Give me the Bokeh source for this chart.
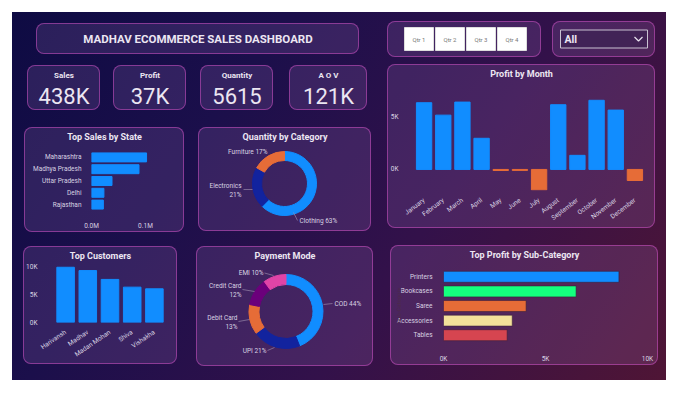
import math
from bokeh.plotting import figure
from bokeh.models import Spacer, Range1d, FactorRange, FixedTicker
from bokeh.core.properties import value
from bokeh.embed import file_html
from bokeh.resources import INLINE

# ---------------- data ----------------
dashboard_title = "MADHAV ECOMMERCE SALES DASHBOARD"
kpi_names = ["Sales", "Profit", "Quantity", "A O V"]
kpi_values = ["438K", "37K", "5615", "121K"]
quarters = ["Qtr 1", "Qtr 2", "Qtr 3", "Qtr 4"]
state_filter = "All"

months = ["January", "February", "March", "April", "May", "June", "July",
          "August", "September", "October", "November", "December"]
month_profit = [6340, 5160, 6400, 2960, -100, -90, -1940, 6150, 1340, 6570, 5640, -1050]
month_ticks = [0, 5000]
month_tick_labels = ["0K", "5K"]

states = ["Maharashtra", "Madhya Pradesh", "Uttar Pradesh", "Delhi", "Rajasthan"]
state_sales = [102000, 88000, 38000, 23000, 22000]
state_ticks = [0, 100000]
state_tick_labels = ["0.0M", "0.1M"]

categories = ["Clothing", "Electronics", "Furniture"]
category_pct = [63, 21, 17]

customers = ["Harivansh", "Madhav", "Madan Mohan", "Shiva", "Vishakha"]
customer_sales = [10000, 9400, 7800, 6400, 6100]
customer_ticks = [0, 5000, 10000]
customer_tick_labels = ["0K", "5K", "10K"]

pay_modes = ["COD", "UPI", "Debit Card", "Credit Card", "EMI"]
pay_pct = [44, 21, 13, 12, 10]

subcats = ["Printers", "Bookcases", "Saree", "Accessories", "Tables"]
subcat_profit = [8600, 6500, 4050, 3370, 3120]
subcat_ticks = [0, 5000, 10000]
subcat_tick_labels = ["0K", "5K", "10K"]

# ---------------- style ----------------
FONT = "Roboto"
TXT = "#ece6f2"
LBL = "#d9d2e2"
LEAD = "#a496b4"
BLUE, NAVY, ORANGE, PURPLE, PINK = "#118DFF", "#12239E", "#E66C37", "#6B007B", "#E044A7"
SUB_COLORS = ["#118DFF", "#14FF7E", "#E66C37", "#F3E09A", "#D64550"]
PANEL_BG = "rgba(200,150,225,0.15)"
PANEL_BORDER = "rgba(205,80,195,0.55)"
GRAD = "linear-gradient(125deg, #0e0b43 0%, #1b0f4b 30%, #33114a 62%, #4f1535 100%)"


def place(x, y, styled=True):
    st = {"position": "absolute", "left": f"{x}px", "top": f"{y}px"}
    if styled:
        st.update({"border-radius": "8px", "background": PANEL_BG,
                   "box-shadow": f"inset 0 0 0 1px {PANEL_BORDER}"})
    return st


def panel(x, y, w, h, styled=True, **kw):
    p = figure(width=w, height=h, output_backend="svg", toolbar_location=None, **kw)
    p.background_fill_alpha = 0
    p.border_fill_alpha = 0
    p.outline_line_color = None
    p.styles = place(x, y, styled)
    return p


def canvas(x, y, w, h, styled=True):
    p = panel(x, y, w, h, styled=styled, x_range=Range1d(0, w), y_range=Range1d(h, 0),
              x_axis_type=None, y_axis_type=None,
              min_border_left=0, min_border_right=0, min_border_top=0, min_border_bottom=0)
    return p


def txt(p, x, y, s, size, color=TXT, align="center", bold=False, angle=0.0):
    p.text(x=[x], y=[y], text=[s], text_font=value(FONT), text_font_size=f"{size}px",
           text_color=color, text_align=align, text_baseline="middle", angle=angle,
           text_font_style="bold" if bold else "normal")


def style_axes(p, size="6.5px"):
    for ax in (p.xaxis[0], p.yaxis[0]):
        ax.axis_line_color = None
        ax.major_tick_line_color = None
        ax.minor_tick_line_color = None
        ax.major_label_text_color = LBL
        ax.major_label_text_font = FONT
        ax.major_label_text_font_size = size
    p.grid.visible = False


def ring_angles(vals):
    total = float(sum(vals))
    starts, ends, cum = [], [], 0.0
    for v in vals:
        starts.append(math.pi / 2 - 2 * math.pi * cum / total)
        cum += v
        ends.append(math.pi / 2 - 2 * math.pi * cum / total)
    return starts, ends


def overlay_title(x, y, w, h, text):
    o = canvas(x, y, w, h, styled=False)
    txt(o, w / 2, 9.5, text, 9, bold=True)
    return o


bg = Spacer(width=654, height=368, styles={"position": "absolute", "left": "12px", "top": "12px",
                                            "background": GRAD})
children = []
overlays = []

# title
pt = canvas(36, 23, 323, 31)
txt(pt, 161.5, 15.5, dashboard_title, 11.5, bold=True)
children.append(pt)

# KPI cards
for (x, w), name, val in zip([(27, 73), (113, 73), (200, 73), (289, 78)], kpi_names, kpi_values):
    pk = canvas(x, 65, w, 45)
    txt(pk, w / 2, 9.5, name, 8, bold=True)
    txt(pk, w / 2, 30.5, val, 22)
    children.append(pk)

# quarter slicer
pq = canvas(387, 21, 154, 36)
qx = [31.5 + 31 * i for i in range(len(quarters))]
pq.rect(x=qx, y=17.5, width=29, height=23, fill_color="white", line_color="#dddddd")
pq.text(x=qx, y=17.5, text=quarters, text_font=value(FONT), text_font_size="6px",
        text_color="#777777", text_align="center", text_baseline="middle")
children.append(pq)

# dropdown
pd_ = canvas(552, 21, 103, 36)
pd_.rect(x=51.5, y=17.5, width=87, height=18, fill_color="#3a2352", fill_alpha=0.6,
         line_color="#c9c2d2", line_width=1)
txt(pd_, 12, 18, state_filter, 10.5, align="left", bold=True)
pd_.line(x=[82, 86, 90], y=[15.5, 19.5, 15.5], line_color="#e8e2ee", line_width=1.2)
children.append(pd_)

# Profit by Month
pm = panel(387, 64, 268, 164, x_range=FactorRange(*months), y_range=Range1d(-2000, 7500),
           min_border_left=25, min_border_right=11, min_border_top=26, min_border_bottom=38)
pm.vbar(x=months, top=month_profit, width=0.8,
        color=[BLUE if v >= 0 else ORANGE for v in month_profit])
style_axes(pm)
pm.yaxis.ticker = FixedTicker(ticks=month_ticks)
pm.yaxis.major_label_overrides = dict(zip(month_ticks, month_tick_labels))
pm.yaxis.major_label_standoff = 10
pm.xaxis.major_label_orientation = 0.65
pm.xaxis.major_label_standoff = 3
children.append(pm)
overlays.append(overlay_title(387, 64, 268, 20, "Profit by Month"))

# Top Sales by State
pst = panel(24, 127, 160, 105, y_range=FactorRange(*reversed(states)), x_range=Range1d(0, 126000),
            min_border_left=67, min_border_right=25, min_border_top=24, min_border_bottom=21)
pst.hbar(y=states, right=state_sales, height=0.76, color=BLUE)
style_axes(pst)
pst.xaxis.ticker = FixedTicker(ticks=state_ticks)
pst.xaxis.major_label_overrides = dict(zip(state_ticks, state_tick_labels))
pst.xaxis.major_label_standoff = 5
pst.yaxis.major_label_standoff = 4
children.append(pst)
overlays.append(overlay_title(24, 127, 160, 20, "Top Sales by State"))

# Quantity by Category
pc = canvas(198, 127, 173, 104)
txt(pc, 86.5, 9.5, "Quantity by Category", 9, bold=True)
s, e = ring_angles(category_pct)
pc.annular_wedge(x=86, y=56, inner_radius=23, outer_radius=32, inner_radius_units="screen",
                 outer_radius_units="screen", start_angle=s, end_angle=e, direction="clock",
                 color=[BLUE, NAVY, ORANGE])
txt(pc, 101, 93, f"{categories[0]} {category_pct[0]}%", 6.5, LBL, "left")
txt(pc, 43, 58, categories[1], 6.5, LBL, "right")
txt(pc, 43, 67, f"{category_pct[1]}%", 6.5, LBL, "right")
txt(pc, 69, 24, f"{categories[2]} {category_pct[2]}%", 6.5, LBL, "right")
pc.multi_line(xs=[[45, 54], [99, 95]], ys=[[62, 62], [93, 85]], line_color=LEAD, line_width=0.6)
children.append(pc)

# Top Customers
pcu = panel(23, 246, 154, 118, x_range=FactorRange(*customers), y_range=Range1d(0, 10500),
            min_border_left=29, min_border_right=12, min_border_top=18, min_border_bottom=41)
pcu.vbar(x=customers, top=customer_sales, width=0.79, color=BLUE)
style_axes(pcu)
pcu.yaxis.ticker = FixedTicker(ticks=customer_ticks)
pcu.yaxis.major_label_overrides = dict(zip(customer_ticks, customer_tick_labels))
pcu.yaxis.major_label_standoff = 11
pcu.xaxis.major_label_orientation = 0.6
pcu.xaxis.major_label_standoff = 3
children.append(pcu)
overlays.append(overlay_title(23, 246, 154, 18, "Top Customers"))

# Payment Mode
pp = canvas(196, 246, 177, 120)
txt(pp, 88.5, 9.5, "Payment Mode", 9, bold=True)
s, e = ring_angles(pay_pct)
pp.annular_wedge(x=89.5, y=65, inner_radius=27, outer_radius=37, inner_radius_units="screen",
                 outer_radius_units="screen", start_angle=s, end_angle=e, direction="clock",
                 color=[BLUE, NAVY, ORANGE, PURPLE, PINK])
txt(pp, 138, 57, f"{pay_modes[0]} {pay_pct[0]}%", 6.5, LBL, "left")
txt(pp, 70, 104, f"{pay_modes[1]} {pay_pct[1]}%", 6.5, LBL, "right")
txt(pp, 41, 71, pay_modes[2], 6.5, LBL, "right")
txt(pp, 41, 80, f"{pay_pct[2]}%", 6.5, LBL, "right")
txt(pp, 45, 39, pay_modes[3], 6.5, LBL, "right")
txt(pp, 45, 48, f"{pay_pct[3]}%", 6.5, LBL, "right")
txt(pp, 67, 26.5, f"{pay_modes[4]} {pay_pct[4]}%", 6.5, LBL, "right")
pp.multi_line(xs=[[127, 136], [71, 78], [42, 53], [46, 58], [68, 77]],
              ys=[[58, 57], [104, 101], [75, 73], [43, 45], [26.5, 29]],
              line_color=LEAD, line_width=0.6)
children.append(pp)

# Top Profit by Sub-Category
ps = panel(390, 245, 268, 120, y_range=FactorRange(*reversed(subcats)), x_range=Range1d(0, 10000),
           min_border_left=53, min_border_right=11, min_border_top=24, min_border_bottom=23)
ps.hbar(y=subcats, right=subcat_profit, height=0.75, color=SUB_COLORS,
        line_color="#3a1f3a", line_alpha=0.6)
style_axes(ps)
ps.xaxis.ticker = FixedTicker(ticks=subcat_ticks)
ps.xaxis.major_label_overrides = dict(zip(subcat_ticks, subcat_tick_labels))
ps.xaxis.major_label_standoff = 6
ps.yaxis.major_label_standoff = 5
children.append(ps)
os_ = overlay_title(390, 245, 268, 120, "Top Profit by Sub-Category")
txt(os_, 8, 60, "Sub-Category", 6, "#4d2a4c", angle=math.pi / 2)
overlays.append(os_)

roots = [bg] + children + overlays
open("out.html", "w").write(file_html(roots, INLINE, "Madhav Ecommerce Sales Dashboard"))
